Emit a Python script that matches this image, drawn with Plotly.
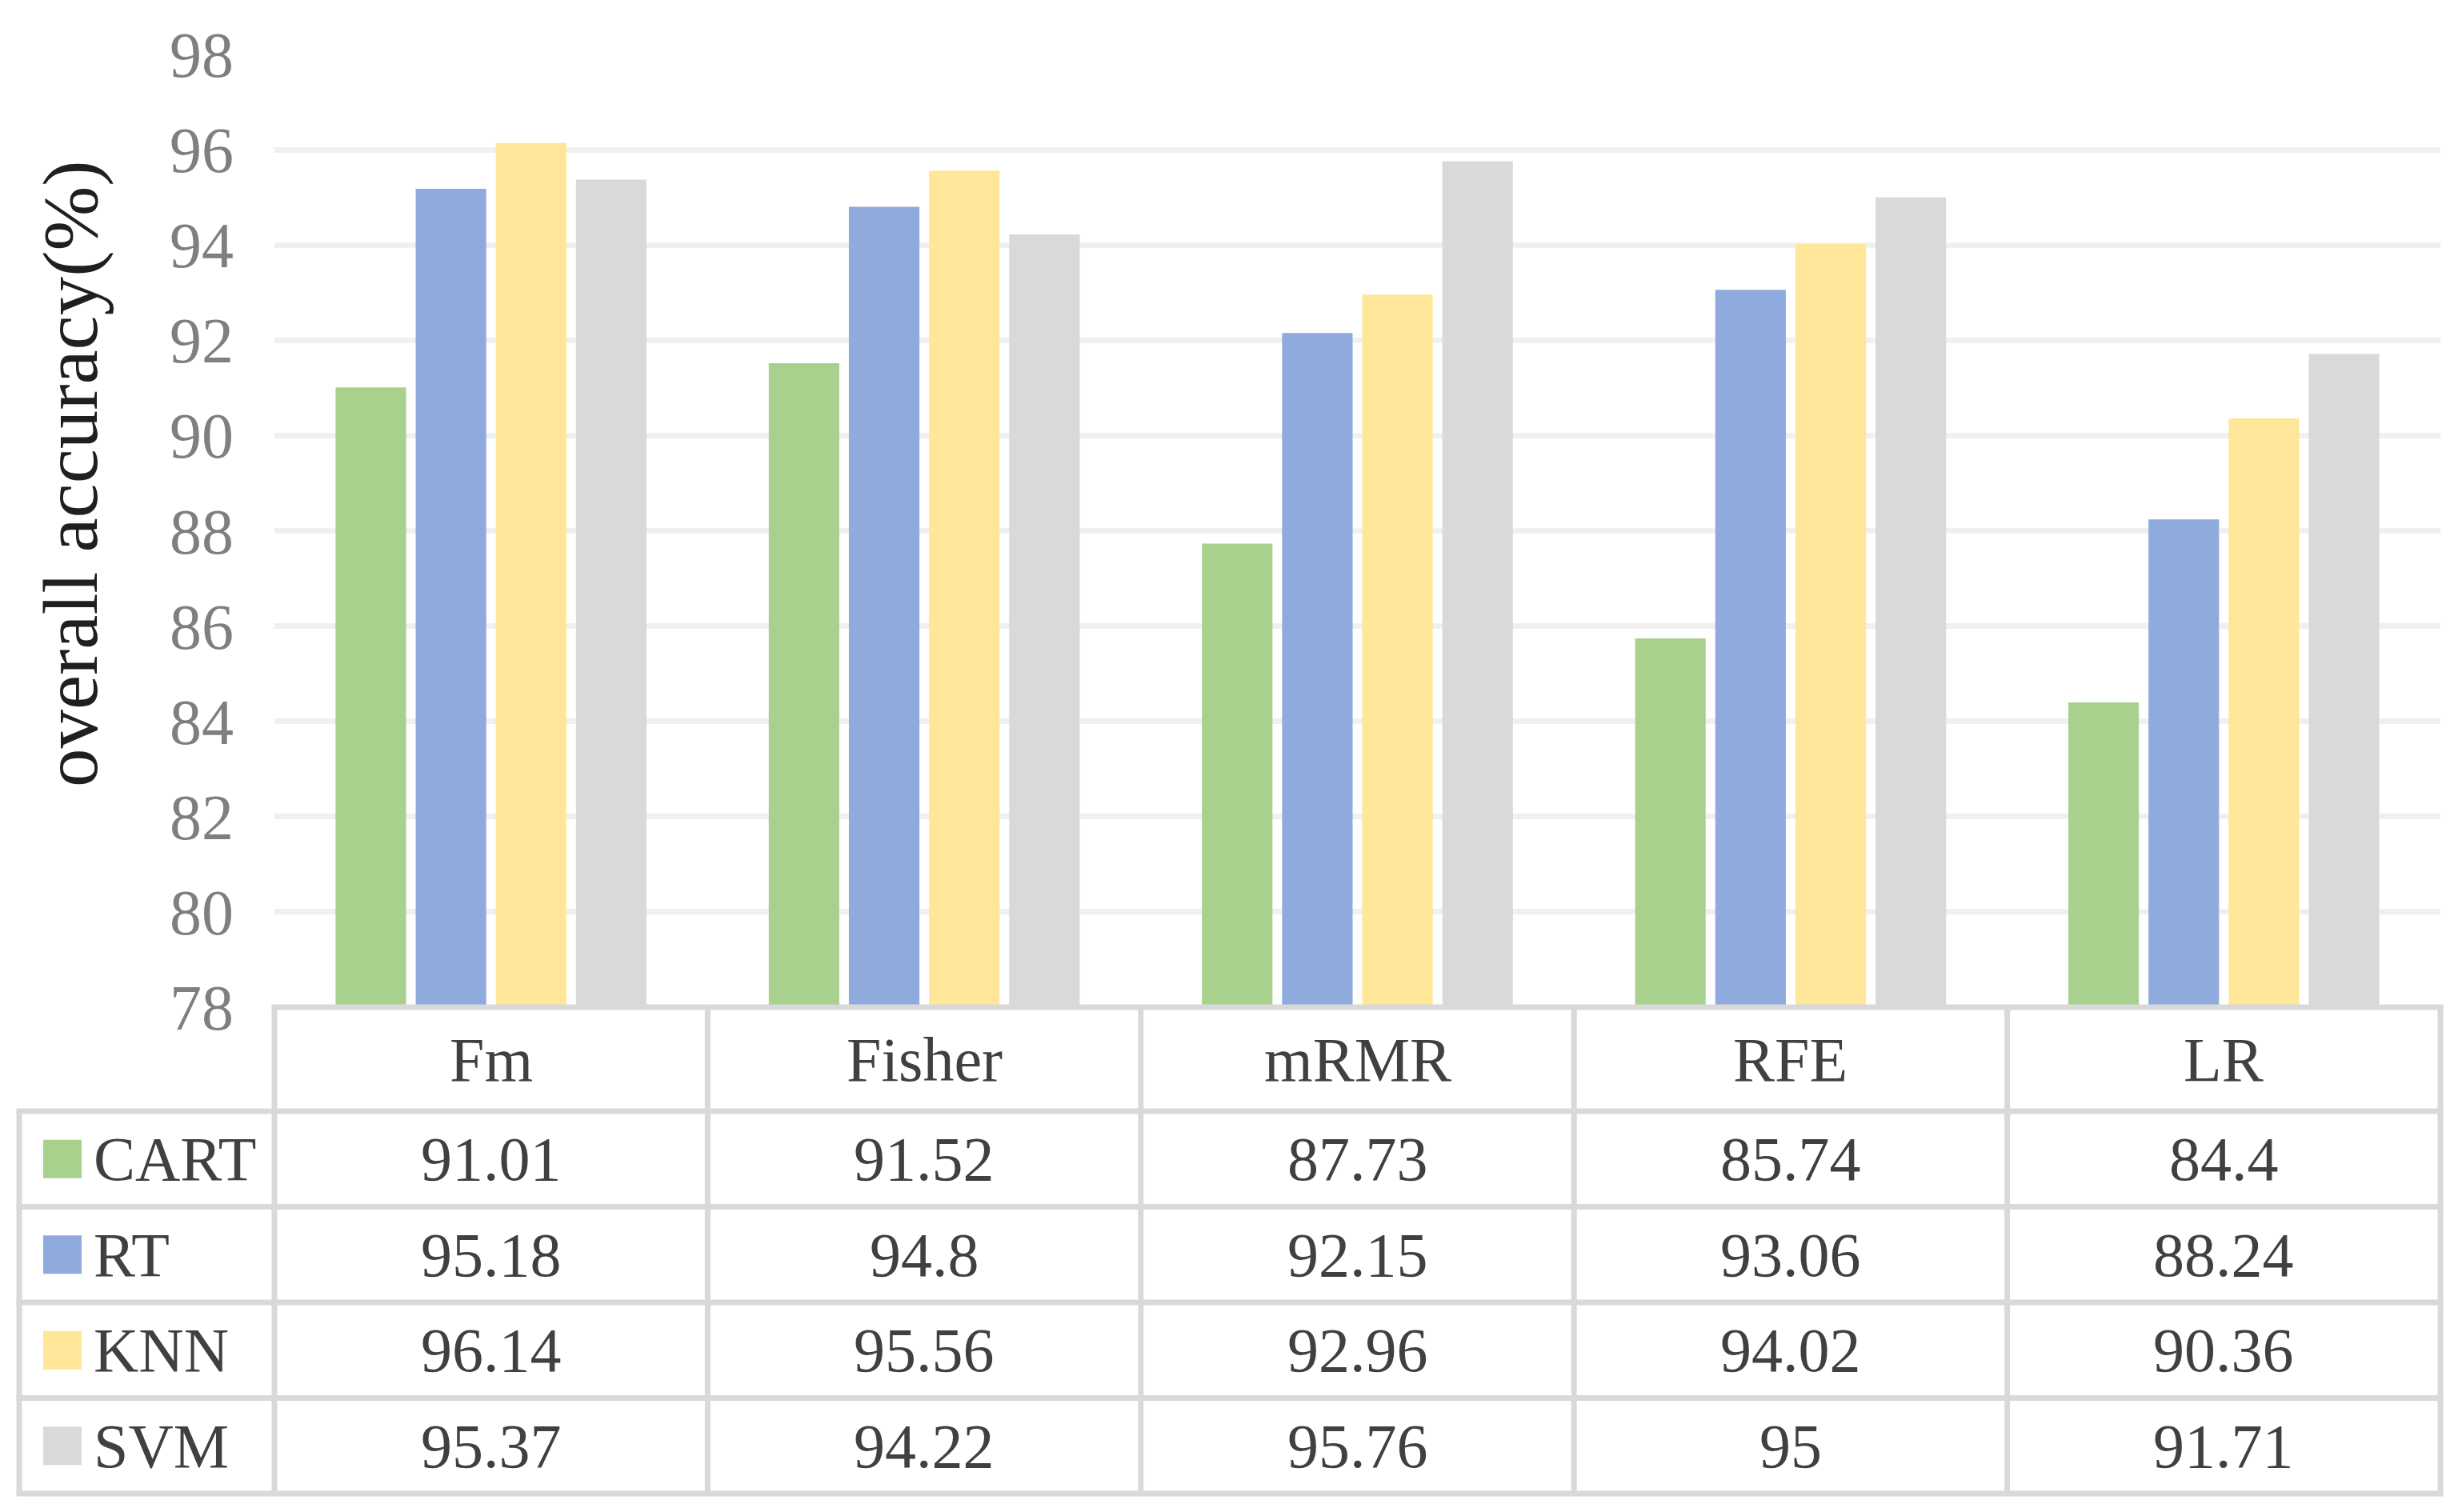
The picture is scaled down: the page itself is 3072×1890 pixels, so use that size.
import plotly.graph_objects as go

# ---------------- data ----------------
categories = ["Fm", "Fisher", "mRMR", "RFE", "LR"]
series_names = ["CART", "RT", "KNN", "SVM"]
cart_values = [91.01, 91.52, 87.73, 85.74, 84.4]
rt_values = [95.18, 94.8, 92.15, 93.06, 88.24]
knn_values = [96.14, 95.56, 92.96, 94.02, 90.36]
svm_values = [95.37, 94.22, 95.76, 95, 91.71]
y_tick_values = [78, 80, 82, 84, 86, 88, 90, 92, 94, 96, 98]
y_title = "overall accuracy(%)"

# ---------------- styles ----------------
series_values = [cart_values, rt_values, knn_values, svm_values]
series_colors = ["#A9D18E", "#8FAADC", "#FFE699", "#D9D9D9"]
FONT = "Liberation Serif"
TEXT_COLOR = "#404040"
GRID_COLOR = "#F0F0F0"
TABLE_LINE = "#D9D9D9"

# page geometry (the html body adds an 8px margin)
OFF = 8
PAGE_W, PAGE_H = 3072, 1890
PLOT_L, PLOT_R, PLOT_T, PLOT_B = 343, 3050, 68, 1259  # page px
W, H = PAGE_W - OFF, PAGE_H - OFF
ML = PLOT_L - OFF
MT = PLOT_T - OFF
MR = W - (PLOT_R - OFF)
MB = H - (PLOT_B - OFF)
PW = PLOT_R - PLOT_L
PH = PLOT_B - PLOT_T


def xdom(page_x):
    """page x pixel -> x-domain units"""
    return (page_x - PLOT_L) / PW


def dy(px):
    """vertical pixel offset -> paper units"""
    return px / PH


fig = go.Figure()
for name, vals, col in zip(series_names, series_values, series_colors):
    fig.add_trace(go.Bar(
        name=name, x=categories, y=vals,
        marker=dict(color=col, line=dict(width=0)),
        showlegend=False,
    ))

# ---------------- data table under the chart ----------------
hdr_h = dy(130)
row_h = dy(119.5)
lw = 7
ext = lw / 2 / PW
legend_left = xdom(24)
n_cols = len(categories)
n_rows = len(series_names)

shapes = []
line_style = dict(color=TABLE_LINE, width=lw)
shapes.append(dict(type="line", xref="x domain", yref="paper",
                   x0=-ext, x1=1 + ext, y0=0, y1=0, line=line_style))
for r in range(n_rows + 1):
    yy = -hdr_h - r * row_h
    shapes.append(dict(type="line", xref="x domain", yref="paper",
                       x0=legend_left - ext, x1=1 + ext, y0=yy, y1=yy,
                       line=line_style))
bottom = -hdr_h - n_rows * row_h
for c in range(n_cols + 1):
    xx = c / n_cols
    shapes.append(dict(type="line", xref="x domain", yref="paper",
                       x0=xx, x1=xx, y0=0, y1=bottom, line=line_style))
shapes.append(dict(type="line", xref="x domain", yref="paper",
                   x0=legend_left, x1=legend_left, y0=-hdr_h, y1=bottom,
                   line=line_style))

annotations = []
for cat in categories:
    annotations.append(dict(
        x=cat, xref="x", y=-hdr_h / 2, yref="paper",
        text=cat, showarrow=False, xanchor="center", yanchor="middle",
        font=dict(family=FONT, size=78, color=TEXT_COLOR)))

key = dy(48)
for r, (name, vals, col) in enumerate(zip(series_names, series_values, series_colors)):
    yc = -hdr_h - (r + 0.5) * row_h
    shapes.append(dict(type="rect", xref="x domain", yref="paper",
                       x0=xdom(54), x1=xdom(102),
                       y0=yc - key / 2, y1=yc + key / 2,
                       fillcolor=col, line=dict(width=0)))
    annotations.append(dict(
        x=xdom(115), xref="x domain", y=yc, yref="paper",
        text=name, showarrow=False, xanchor="left", yanchor="middle",
        font=dict(family=FONT, size=78, color=TEXT_COLOR)))
    for cat, v in zip(categories, vals):
        annotations.append(dict(
            x=cat, xref="x", y=yc, yref="paper",
            text=f"{v:g}", showarrow=False, xanchor="center", yanchor="middle",
            font=dict(family=FONT, size=78, color=TEXT_COLOR)))

annotations.append(dict(
    x=xdom(88), xref="x domain", y=1 - dy(592 - PLOT_T), yref="paper",
    text=y_title, textangle=-90, showarrow=False,
    xanchor="center", yanchor="middle",
    font=dict(family=FONT, size=97, color="#1F1F1F")))

fig.update_layout(
    width=W, height=H,
    margin=dict(l=ML, r=MR, t=MT, b=MB, pad=0),
    paper_bgcolor="white", plot_bgcolor="white",
    barmode="group", bargap=0.26, bargroupgap=0.12,
    showlegend=False,
    font=dict(family=FONT, color=TEXT_COLOR),
    xaxis=dict(range=[-0.5, len(categories) - 0.5], showticklabels=False,
               showgrid=False, zeroline=False, showline=False, ticks=""),
    yaxis=dict(range=[78, 98], tickvals=y_tick_values, ticks="",
               showgrid=True, gridcolor=GRID_COLOR, gridwidth=7,
               zeroline=False, showline=False, ticklabelstandoff=50,
               tickfont=dict(family=FONT, size=80, color="#7F7F7F")),
    shapes=shapes,
    annotations=annotations,
)

fig.write_html("out.html")
